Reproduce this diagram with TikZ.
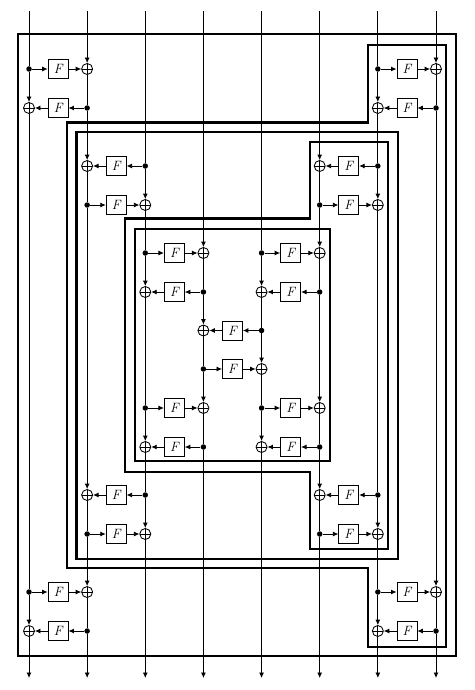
\documentclass[tikz,border=0pt]{standalone}
\usepackage{fontspec}
\usetikzlibrary{arrows.meta,calc}
\begin{document}
\begin{tikzpicture}[x=1pt,y=-1pt,
  fbox/.style={draw, fill=white, line width=0.85pt, minimum width=20pt, minimum height=19pt, inner sep=0pt, font=\fontsize{13.5}{15}\selectfont\itshape},
  xorop/.style={circle, draw, line width=0.85pt, minimum size=11pt, inner sep=0pt,
    path picture={\draw[line width=0.85pt] (path picture bounding box.north)--(path picture bounding box.south) (path picture bounding box.west)--(path picture bounding box.east);}},
  junct/.style={circle, fill, minimum size=5.5pt, inner sep=0pt},
  arr/.style={line width=0.85pt, -{Latex[length=5.5pt,width=5pt]}},
  segd/.style={line width=0.85pt},
  segx/.style={arr},
  segb/.style={arr},
  frame/.style={line width=2.6pt, line join=miter}
]
\useasboundingbox (0,0) rectangle (474,690);
% columns and rows
\foreach \i/\xx in {1/29,2/87.14,3/145.28,4/203.42,5/261.56,6/319.7,7/377.84,8/436}
  \coordinate (col\i) at (\xx,0);
\foreach \i/\yy in {0/11,1/69,2/108,3/166,4/205,5/253,6/292,7/330.5,8/369,9/408,10/447,11/495,12/534,13/592,14/631,15/678}
  \coordinate (row\i) at (0,\yy);
% top and bottom ends
\foreach \c in {1,...,8} {
  \coordinate (p0-\c) at (col\c |- row0);
  \coordinate (p15-\c) at (col\c |- row15);
}
% rounds
\foreach \r/\s/\d in {1/1/2,1/7/8,2/2/1,2/8/7,3/3/2,3/7/6,4/2/3,4/6/7,5/3/4,5/5/6,6/4/3,6/6/5,7/5/4,8/4/5,9/3/4,9/5/6,10/4/3,10/6/5,11/3/2,11/7/6,12/2/3,12/6/7,13/1/2,13/7/8,14/2/1,14/8/7} {
  \node[junct] (p\r-\s) at (col\s |- row\r) {};
  \node[xorop] (p\r-\d) at (col\d |- row\r) {};
  \node[fbox] (f\r-\s) at ($(p\r-\s)!0.5!(p\r-\d)$) {F};
  \draw[arr] (p\r-\s) -- (f\r-\s);
  \draw[arr] (f\r-\s) -- (p\r-\d);
}
% vertical wires
\foreach \c/\lst in {
  1/{1/d,2/x,13/d,14/x,15/b},
  2/{1/x,2/d,3/x,4/d,11/x,12/d,13/x,14/d,15/b},
  3/{3/d,4/x,5/d,6/x,9/d,10/x,11/d,12/x,15/b},
  4/{5/x,6/d,7/x,8/d,9/x,10/d,15/b},
  5/{5/d,6/x,7/d,8/x,9/d,10/x,15/b},
  6/{3/x,4/d,5/x,6/d,9/x,10/d,11/x,12/d,15/b},
  7/{1/d,2/x,3/d,4/x,11/d,12/x,13/d,14/x,15/b},
  8/{1/x,2/d,13/x,14/d,15/b}} {
  \foreach \r/\t [remember=\r as \pr (initially 0)] in \lst {
    \draw[seg\t] (p\pr-\c) -- (p\r-\c);
  }
}
% frames
\draw[frame] (18,34) rectangle (456,656);
\draw[frame] (368,45) -- (446,45) -- (446,647) -- (368,647) -- (368,568) -- (67,568) -- (67,122.5) -- (368,122.5) -- cycle;
\draw[frame] (76.5,132) rectangle (398,559);
\draw[frame] (310,142) -- (388,142) -- (388,549) -- (310,549) -- (310,472) -- (125,472) -- (125,218.5) -- (310,218.5) -- cycle;
\draw[frame] (135,229) rectangle (330,461);
\end{tikzpicture}
\end{document}
